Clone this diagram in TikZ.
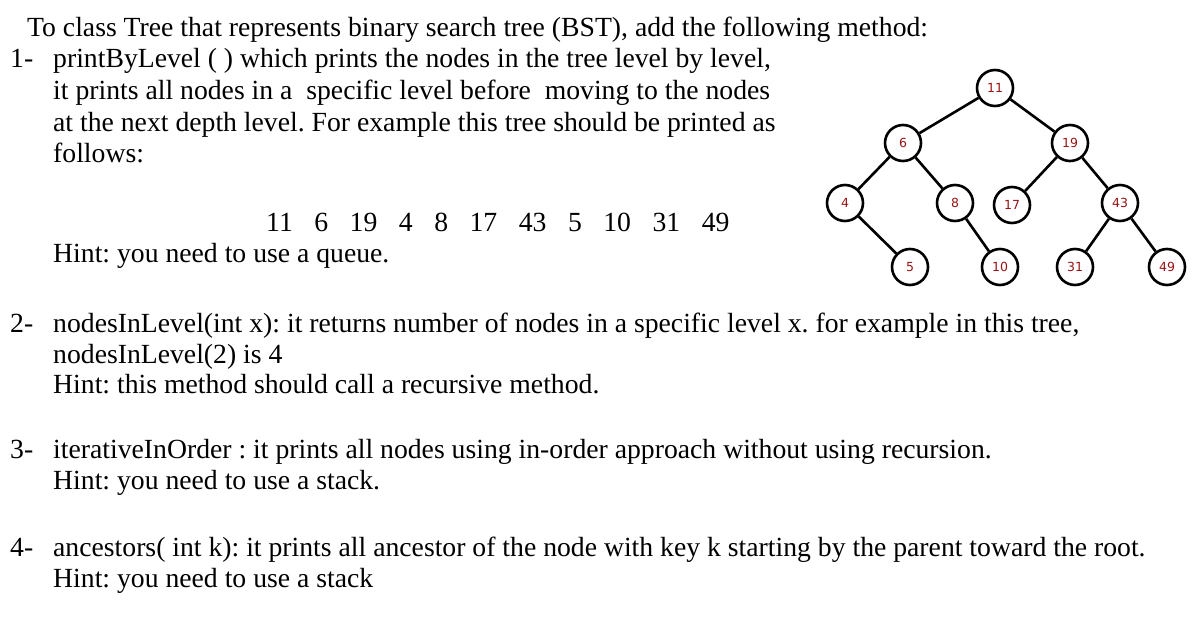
\documentclass[tikz,border=0pt]{standalone}
\usepackage{fontspec}
\setmainfont{Liberation Serif}
\newfontfamily\lblfont{DejaVu Sans}
\definecolor{lbl}{RGB}{150,20,20}
\frenchspacing
\begin{document}
\begin{tikzpicture}[x=1pt,y=-1pt,
  txt/.style={anchor=base west,inner sep=0pt,font=\fontsize{27.7}{32}\selectfont},
  tn/.style={circle,draw,line width=2.6pt,minimum size=36pt,inner sep=0pt,font=\lblfont\fontsize{12.5}{13}\selectfont,text=lbl},
  ed/.style={line width=2.6pt}]
\useasboundingbox (0,0) rectangle (1199,644);
\node[txt] (l0) at (27,37) {To class Tree that represents binary search tree (BST), add the following method:};
\node[txt] (n1) at (10,68) {1-};
\node[txt] (l1) at (53,68) {printByLevel ( ) which prints the nodes in the tree level by level,};
\node[txt] (l2) at (53,100) {it prints all nodes in a\ \ specific level before\ \ moving to the nodes};
\node[txt] (l3) at (53,132) {at the next depth level. For example this tree should be printed as};
\node[txt] (l4) at (53,163) {follows:};
\node[txt] (l5) at (266,232) {11\hspace{21.5pt}6\hspace{21.5pt}19\hspace{21.5pt}4\hspace{21.5pt}8\hspace{21.5pt}17\hspace{21.5pt}43\hspace{21.5pt}5\hspace{21.5pt}10\hspace{21.5pt}31\hspace{21.5pt}49};
\node[txt] (l6) at (53,263) {Hint: you need to use a queue.};
\node[txt] (n2) at (10,332) {2-};
\node[txt] (l7) at (53,332) {nodesInLevel(int x): it returns number of nodes in a specific level x. for example in this tree,};
\node[txt] (l8) at (53,363) {nodesInLevel(2) is 4};
\node[txt] (l9) at (53,393) {Hint: this method should call a recursive method.};
\node[txt] (n3) at (10,458) {3-};
\node[txt] (l10) at (53,458) {iterativeInOrder : it prints all nodes using in-order approach without using recursion.};
\node[txt] (l11) at (53,489) {Hint: you need to use a stack.};
\node[txt] (n4) at (10,556) {4-};
\node[txt] (l12) at (53,556) {ancestors( int k): it prints all ancestor of the node with key k starting by the parent toward the root.};
\node[txt] (l13) at (53,587) {Hint: you need to use a stack};
\node[tn] (t11) at (995,88) {11};
\node[tn] (t6) at (903,143) {6};
\node[tn] (t19) at (1070,143) {19};
\node[tn] (t4) at (845,203) {4};
\node[tn] (t8) at (955,203) {8};
\node[tn] (t17) at (1012,205) {17};
\node[tn] (t43) at (1120,203) {43};
\node[tn] (t5) at (910,267) {5};
\node[tn] (t10) at (1000,267) {10};
\node[tn] (t31) at (1075,267) {31};
\node[tn] (t49) at (1167,267) {49};
\draw[ed] (t11)--(t6); \draw[ed] (t11)--(t19);
\draw[ed] (t6)--(t4); \draw[ed] (t6)--(t8);
\draw[ed] (t19)--(t17); \draw[ed] (t19)--(t43);
\draw[ed] (t4)--(t5); \draw[ed] (t8)--(t10);
\draw[ed] (t43)--(t31); \draw[ed] (t43)--(t49);
\end{tikzpicture}
\end{document}
